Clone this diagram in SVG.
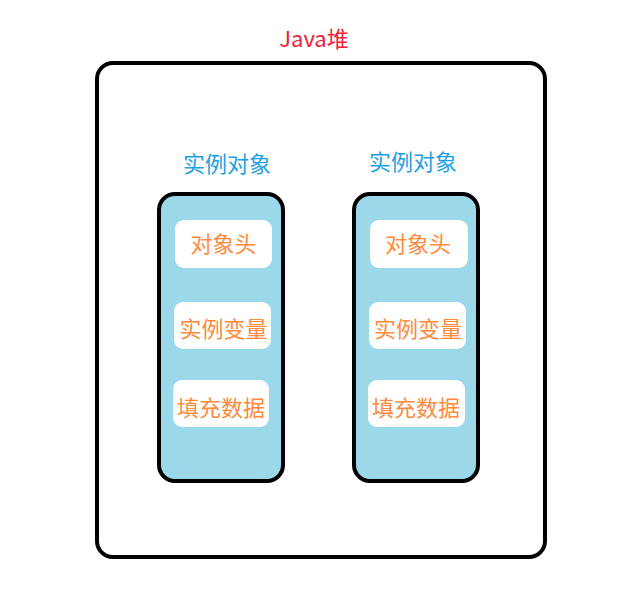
<svg xmlns="http://www.w3.org/2000/svg" width="641" height="612" viewBox="0 0 641 612">
<style>
text{font-family:"Noto Sans CJK SC","Noto Sans",sans-serif;font-size:22px;text-anchor:middle}
.outer{fill:#fff;stroke:#000;stroke-width:4}
.obj{fill:#9BD8EA;stroke:#000;stroke-width:4}
.cell{fill:#fff}
.title{fill:#1BA1E2}
.lbl{fill:#FF8A3C}
.heap{fill:#F2213A}
</style>
<rect width="641" height="612" fill="#fff"/>
<g id="heap">
<rect class="outer" x="97" y="63" width="448" height="494" rx="16"/>
<text class="heap" x="314" y="47">Java堆</text>
</g>
<g id="obj1">
<text class="title" x="227" y="171.5">实例对象</text>
<rect class="obj" x="159" y="194" width="124" height="287" rx="16"/>
<g id="obj1-header"><rect class="cell" x="175" y="220" width="97" height="48" rx="9"/><text class="lbl" x="223.5" y="252">对象头</text></g>
<g id="obj1-vars"><rect class="cell" x="174" y="302" width="97" height="47" rx="9"/><text class="lbl" x="223.5" y="336.5">实例变量</text></g>
<g id="obj1-pad"><rect class="cell" x="173" y="380" width="96" height="47" rx="9"/><text class="lbl" x="221" y="416">填充数据</text></g>
</g>
<g id="obj2">
<text class="title" x="413" y="170">实例对象</text>
<rect class="obj" x="354" y="194" width="124" height="287" rx="16"/>
<g id="obj2-header"><rect class="cell" x="370" y="220" width="98" height="48" rx="9"/><text class="lbl" x="418" y="252">对象头</text></g>
<g id="obj2-vars"><rect class="cell" x="369" y="302" width="97" height="47" rx="9"/><text class="lbl" x="418" y="336.5">实例变量</text></g>
<g id="obj2-pad"><rect class="cell" x="368" y="380" width="97" height="47" rx="9"/><text class="lbl" x="416" y="416">填充数据</text></g>
</g>
<g id="connectors"></g>
</svg>
